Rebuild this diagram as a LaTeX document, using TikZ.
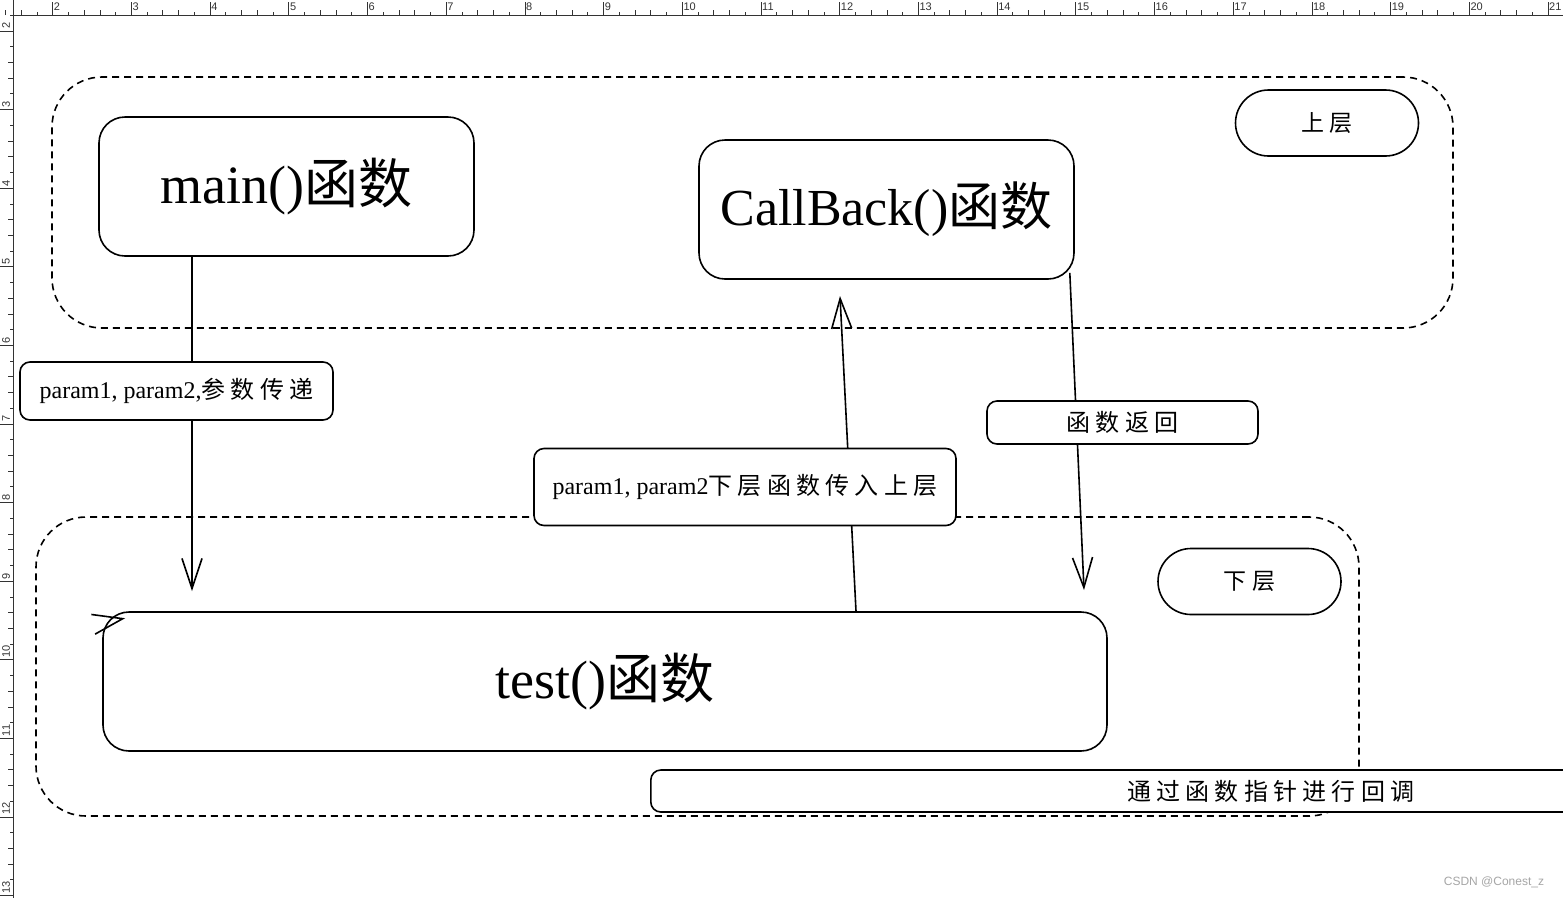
\documentclass[tikz,border=0pt]{standalone}
\usepackage{fontspec}
\setmainfont{Liberation Serif}
\newfontfamily\cjk[LetterSpace=22]{Noto Sans CJK SC}
\newfontfamily\cjkbig{Noto Sans CJK SC}
\newfontfamily\rulerfont{Liberation Sans}
\usetikzlibrary{positioning, arrows.meta, shapes}
\newcommand{\zh}[1]{{\cjk #1}}
\newcommand{\zhbig}[1]{{\cjkbig #1}}
\tikzset{
        x=1pt, y=-1pt, % one unit is one pixel of the screen shot
        link/.style={-{Straight Barb[length=30pt, width=20pt]}, line width=1.6pt}, % connectors
        zone/.style={draw, dash pattern=on 7pt off 5pt, line width=1.6pt, rounded corners=50pt, inner sep=0pt}, % the two layers
        funcbox/.style={draw, line width=1.6pt, rounded corners=26pt, minimum width=375pt, minimum height=139pt, inner sep=0pt, font=\fontsize{54}{58}\selectfont},
        pill/.style={draw, line width=1.6pt, rounded corners=33pt, minimum width=183pt, minimum height=66pt, inner sep=0pt, font=\fontsize{23}{26}\selectfont\cjk},
        note/.style={draw, fill=white, line width=1.6pt, rounded corners=10pt, inner sep=0pt, font=\fontsize{24}{27}\selectfont},
        ruler/.style={line width=0.8pt, black!80},
        rulertext/.style={font=\rulerfont\fontsize{11}{11}\selectfont, inner sep=1pt, black!80},
    }

\begin{document}
\begin{tikzpicture}
    \useasboundingbox[fill=white] (0,0) rectangle (1563,898);
    % rulers of the drawing program
    \draw[ruler] (13,0) -- (13,898);
    \draw[ruler] (13,15) -- (1563,15);
    \foreach \k in {1,...,21} {
        \pgfmathsetmacro\tx{52.7+(\k-2)*78.7}
        \draw[ruler] (\tx,2) -- (\tx,15);
        \ifnum\k>1 \node[rulertext, anchor=west] (top\k) at (\tx,7) {\k};\fi
        \foreach \j/\len in {1/3,2/5,3/5,4/3} {
            \pgfmathsetmacro\mx{\tx+\j*15.74}
            \draw[ruler] (\mx,15) -- (\mx,15-\len);
        }
    }
    \foreach \k in {1,...,13} {
        \pgfmathsetmacro\ty{31+(\k-2)*78.6}
        \draw[ruler] (0,\ty) -- (13,\ty);
        \ifnum\k>1 \node[rulertext, rotate=90, anchor=west] (side\k) at (6,\ty-1) {\k};\fi
        \foreach \j/\len in {1/3,2/5,3/5,4/3} {
            \pgfmathsetmacro\my{\ty+\j*15.72}
            \draw[ruler] (13,\my) -- (13-\len,\my);
        }
    }

    % layers
    \node[zone, minimum width=1401pt, minimum height=251pt] (upzone) at (752.5,202.5) {};
    \node[zone, minimum width=1323pt, minimum height=299pt] (lowzone) at (697.5,666.5) {};

    % functions
    \node[funcbox] (main) at (286.5,186.5) {main()\zhbig{函数}};
    \node[funcbox, font=\fontsize{52}{56}\selectfont] (cb) at (886.5,209.5) {CallBack()\zhbig{函数}};
    \node[funcbox, minimum width=1004pt] (test) at (605,681.5) {test()\zhbig{函数}};
    \node[pill] (upper) at (1327,123) {上层};
    \node[pill] (lower) at (1249.5,581.5) {下层};

    % connectors
    \coordinate (mainin) at (192,591);
    \coordinate (cbin) at (840,296);
    \coordinate (testin) at (1084,590);
    \coordinate (tipa) at (121,619);
    \draw[link] ([xshift=-94.5pt]main.south) -- (mainin);
    \draw[link] ([xshift=251pt]test.north) -- (cbin);
    \draw[link] ([xshift=-5pt, yshift=7pt]cb.south east) -- (testin);
    \draw[link] (tipa) -- ([xshift=23pt, yshift=-7pt]test.north west);

    % notes on the connectors
    \node[note, minimum width=313pt, minimum height=58pt] (passnote) at (176.5,391) {param1, param2,\zh{参数传递}};
    \node[note, minimum width=422pt, minimum height=77pt] (upnote) at (745,487) {param1, param2\zh{下层函数传入上层}};
    \node[note, minimum width=271pt, minimum height=43pt] (retnote) at (1122.5,422.5) {\zh{函数返回}};
    \node[note, minimum width=950pt, minimum height=42pt, anchor=west] (cbnote) at (650,791) {\hspace*{290pt}\zh{通过函数指针进行回调}};

    \node[font=\rulerfont\fontsize{12}{12}\selectfont, text=gray!70] (mark) at (1494,882) {CSDN @Conest\_z};
\end{tikzpicture}
\end{document}
